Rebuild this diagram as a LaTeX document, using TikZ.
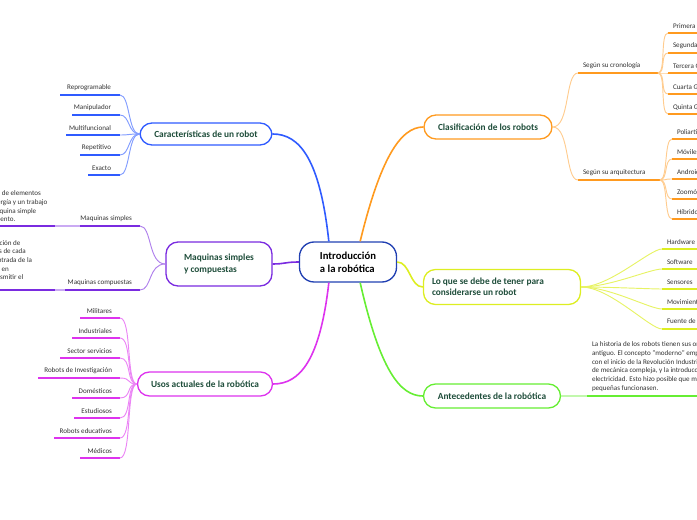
\documentclass[tikz,border=0pt]{standalone}
\usepackage{fontspec}
\setmainfont{Carlito}
\definecolor{tgreen}{HTML}{1E4D3A}
\definecolor{cblue}{HTML}{2F5BFF}
\definecolor{cpur}{HTML}{7A2BE0}
\definecolor{cmag}{HTML}{DD33EE}
\definecolor{cora}{HTML}{FF9A1F}
\definecolor{cyel}{HTML}{DDEE22}
\definecolor{cgrn}{HTML}{66EE33}
\begin{document}
\begin{tikzpicture}[x=0.75pt,y=-0.75pt,
  mainbox/.style={draw=#1,line width=1pt,rounded corners=9pt,fill=white,text=tgreen,font=\fontsize{7}{8.5}\selectfont\bfseries,align=left,inner sep=4pt},
  leaftxt/.style={font=\fontsize{5.3}{6.5}\selectfont,text=black!80,inner sep=1pt,outer sep=2pt,anchor=south west},
  ul/.style={draw=#1,line width=1.2pt},
  br/.style={draw=#1,line width=0.7pt}]
\useasboundingbox (0,0) rectangle (697,520);
\clip (0,0) rectangle (697,520);
% central
\node[draw=cblue!70!black,line width=1pt,rounded corners=11pt,minimum width=97*0.75pt,minimum height=40*0.75pt,font=\fontsize{8}{9.5}\selectfont\bfseries,align=left,text=black] (c) at (348,262) {Introducción\\a la robótica};
% main nodes
\node[mainbox=cblue,minimum width=132*0.75pt,minimum height=22*0.75pt] (car) at (206,134) {Características de un robot};
\node[mainbox=cpur,minimum width=106*0.75pt,minimum height=44*0.75pt] (maq) at (219,264) {Maquinas simples\\y compuestas};
\node[mainbox=cmag,minimum width=135*0.75pt,minimum height=24*0.75pt] (uso) at (205,384) {Usos actuales de la robótica};
\node[mainbox=cora,minimum width=128*0.75pt,minimum height=24*0.75pt] (cla) at (488,127) {Clasificación de los robots};
\node[mainbox=cyel,minimum width=157*0.75pt,minimum height=35*0.75pt,text width=105pt,align=flush left] (loq) at (502,287) {Lo que se debe de tener para considerarse un robot};
\node[mainbox=cgrn,minimum width=137*0.75pt,minimum height=24*0.75pt] (ant) at (492,396) {Antecedentes de la robótica};
% central connectors
\draw[br=cblue,line width=1.2pt] (c.north west)++(30,0) coordinate (c1) .. controls (320,160) and (300,134) .. (car.east);
\draw[br=cpur,line width=1.2pt] (c.west) .. controls (285,262) and (285,264) .. (maq.east);
\draw[br=cmag,line width=1.2pt] (c.south west)++(30,0) coordinate (c2) .. controls (320,360) and (300,384) .. (uso.east);
\draw[br=cora,line width=1.2pt] (c.north east)++(-37,0) coordinate (c3) .. controls (380,160) and (400,127) .. (cla.west);
\draw[br=cyel,line width=1.2pt] (c.east) .. controls (410,262) and (410,287) .. (loq.west);
\draw[br=cgrn,line width=1.2pt] (c.south east)++(-37,0) coordinate (c4) .. controls (380,370) and (400,396) .. (ant.west);
% left leaves: Características
\foreach \t/\y/\xl in {Reprogramable/95/60,Manipulador/115/72,Multifuncional/135/66,Repetitivo/155/80,Exacto/175/88}{
  \node[leaftxt,anchor=south east] at (115,\y) {\t};
  \draw[ul=cblue] (\xl,\y) -- (120,\y) coordinate (e);
  \draw[br=cblue!60] (e) .. controls (130,\y) and (128,134) .. (car.west);
}
% Maquinas
\node[leaftxt,anchor=south east] at (136,226) {Maquinas simples};
\draw[ul=cpur!40] (55,226) -- (80,226);
\draw[ul=cpur] (80,226) -- (140,226) coordinate (m1);
\draw[ul=cpur] (0,226) -- (55,226);
\node[leaftxt,align=left,anchor=south west] at (-46,226) {Es un conjunto de elementos\\que recibe energía y un trabajo\\realiza una máquina simple\\con un movimiento.};
\node[leaftxt,anchor=south east] at (136,290) {Maquinas compuestas};
\draw[ul=cpur!40] (55,290) -- (65,290);
\draw[ul=cpur] (65,290) -- (140,290) coordinate (m2);
\draw[ul=cpur] (0,290) -- (55,290);
\node[leaftxt,align=left,anchor=south west] at (-30,285) {Combinación de\\máquinas de cada\\una es entrada de la\\siguiente en\\para transmitir el};
\draw[br=cpur!60] (m1) .. controls (152,226) and (148,264) .. (maq.west);
\draw[br=cpur!60] (m2) .. controls (152,290) and (148,264) .. (maq.west);
% Usos
\foreach \t/\y/\xl in {Militares/318/80,Industriales/338/72,Sector servicios/358/60,Robots de Investigación/378/38,Domésticos/398/72,Estudiosos/418/74,Robots educativos/438/54,Médicos/458/80}{
  \node[leaftxt,anchor=south east] at (116,\y) {\t};
  \draw[ul=cmag] (\xl,\y) -- (120,\y) coordinate (e);
  \draw[br=cmag!60] (e) .. controls (132,\y) and (126,384) .. (uso.west);
}
% Clasificación
\node[leaftxt] at (579,73) {Según su cronología};
\draw[ul=cora] (578,73) -- (658,73) coordinate (k1);
\node[leaftxt] at (579,180) {Según su arquitectura};
\draw[ul=cora] (578,180) -- (660,180) coordinate (k2);
\draw[br=cora!50] (cla.east) .. controls (570,127) and (565,73) .. (578,73);
\draw[br=cora!50] (cla.east) .. controls (570,127) and (565,180) .. (578,180);
\foreach \t/\y in {Primera Generación/33,Segunda Generación/53,Tercera Generación/73,Cuarta Generación/94,Quinta Generación/114}{
  \node[leaftxt] at (669,\y) {\t};
  \draw[ul=cora] (668,\y) -- (697,\y);
  \draw[br=cora!50] (k1) .. controls (666,73) and (660,\y) .. (668,\y);
}
\foreach \t/\y in {Poliarticulados/139,Móviles/159,Androides/179,Zoomórficos/199,Híbridos/219}{
  \node[leaftxt] at (673,\y) {\t};
  \draw[ul=cora] (672,\y) -- (697,\y);
  \draw[br=cora!50] (k2) .. controls (668,180) and (664,\y) .. (672,\y);
}
% Lo que
\foreach \t/\y in {Hardware/249,Software/269,Sensores/289,Movimientos/309,Fuente de energía/329}{
  \node[leaftxt] at (663,\y) {\t};
  \draw[ul=cyel] (662,\y) -- (697,\y);
  \draw[br=cyel!70] (loq.east) .. controls (610,287) and (650,\y) .. (662,\y);
}
% Antecedentes
\node[leaftxt,align=left,anchor=north west] at (588,338) {La historia de los robots tienen sus orígenes en el mundo\\antiguo. El concepto "moderno" empezó a desarrollarse\\con el inicio de la Revolución Industrial, que permitió el uso\\de mecánica compleja, y la introducción de la\\electricidad. Esto hizo posible que máquinas\\pequeñas funcionasen.};
\draw[ul=cgrn!40] (561,396) -- (587,396);
\draw[ul=cgrn] (587,396) -- (697,396);
\end{tikzpicture}
\end{document}
